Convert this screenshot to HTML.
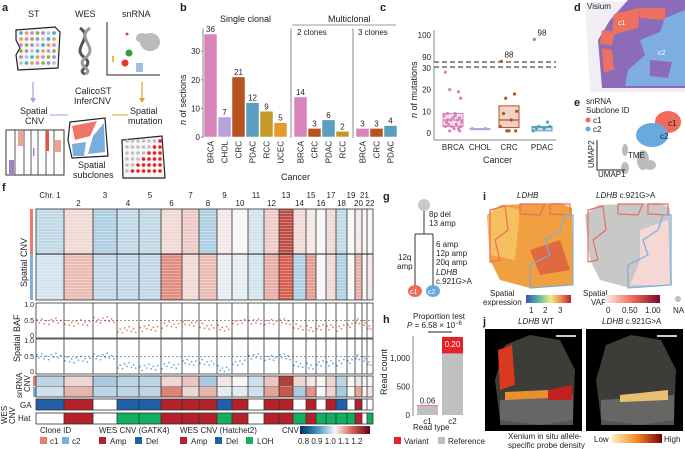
<!DOCTYPE html>
<html><head><meta charset="utf-8"><style>
body{margin:0;background:#fff}
svg{display:block;font-family:"Liberation Sans",sans-serif}
text{fill:#222}
.pl{font-weight:bold;font-size:11px}
.t7{font-size:7px}.t8{font-size:8px}.t9{font-size:9px}
</style></head><body>
<svg id="fig" width="685" height="449" viewBox="0 0 685 449">
<defs>
<pattern id="tex" width="4" height="3" patternUnits="userSpaceOnUse"><rect width="4" height="1" fill="#fff" opacity="0.3"/></pattern>
<linearGradient id="cnvg" x1="0" x2="1"><stop offset="0" stop-color="#053061"/><stop offset="0.25" stop-color="#4393c3"/><stop offset="0.5" stop-color="#f7f7f7"/><stop offset="0.75" stop-color="#d6604d"/><stop offset="1" stop-color="#67001f"/></linearGradient>
<linearGradient id="expg" x1="0" x2="1"><stop offset="0" stop-color="#3a4fb8"/><stop offset="0.3" stop-color="#5fc0a0"/><stop offset="0.55" stop-color="#f5e88a"/><stop offset="0.8" stop-color="#f08040"/><stop offset="1" stop-color="#b0204a"/></linearGradient>
<linearGradient id="vafg" x1="0" x2="1"><stop offset="0" stop-color="#fdf0ee"/><stop offset="0.5" stop-color="#ef6a5a"/><stop offset="1" stop-color="#7a0a2a"/></linearGradient>
<linearGradient id="xeng" x1="0" x2="1"><stop offset="0" stop-color="#fdf1b8"/><stop offset="0.5" stop-color="#f08a20"/><stop offset="1" stop-color="#7a0010"/></linearGradient>
</defs>

<!-- Panel a -->
<g>
<text class="pl" x="2" y="11">a</text>
<text class="t9" x="28" y="17">ST</text><text class="t9" x="75" y="17">WES</text><text class="t9" x="122" y="17">snRNA</text>
<path d="M16 30 L55 27 L60 32 L58 68 L18 70 L16 55 L20 48 L16 40Z" fill="#f6f6f6" stroke="#222" stroke-width="1.2"/>
<g id="stdots"></g>
<path d="M80 28 C95 38 70 48 85 58 C95 66 75 70 85 74" stroke="#555" stroke-width="3" fill="none"/>
<path d="M90 28 C75 38 100 48 85 58 C75 66 95 70 85 74" stroke="#999" stroke-width="3" fill="none"/>
<path d="M107 22 L107 75 L160 75" stroke="#222" fill="none"/>
<ellipse cx="150" cy="42" rx="10" ry="9" fill="#bbb"/><ellipse cx="142" cy="38" rx="6" ry="5" fill="#bbb"/>
<circle cx="129" cy="53" r="3.5" fill="#3a9a3a"/><circle cx="125" cy="63" r="3.5" fill="#e03a2a"/><rect x="136" y="63" width="7" height="9" fill="#9bc0e4"/><rect x="112" y="56" width="2" height="6" fill="#e8c040"/><circle cx="127" cy="34" r="1.5" fill="#c040b0"/>
<line x1="33" y1="82" x2="33" y2="100" stroke="#b29ad6" stroke-width="1.2"/><path d="M30 98 L33 103 L36 98Z" fill="#b29ad6"/>
<line x1="142" y1="82" x2="142" y2="100" stroke="#e8a020" stroke-width="1.2"/><path d="M139 98 L142 103 L145 98Z" fill="#e8a020"/>
<text class="t9" x="20" y="114">Spatial</text><text class="t9" x="25" y="124">CNV</text>
<line x1="50" y1="115" x2="68" y2="115" stroke="#b29ad6"/>
<text class="t9" x="75" y="94">CalicoST</text><text class="t9" x="74" y="104">InferCNV</text>
<line x1="112" y1="115" x2="128" y2="115" stroke="#e8a020"/>
<text class="t9" x="130" y="114">Spatial</text><text class="t9" x="128" y="124">mutation</text>
<rect x="6" y="130" width="58" height="45" fill="#fff" stroke="#333"/>
<g stroke="#333" stroke-width="0.8"><line x1="15" y1="130" x2="15" y2="175"/><line x1="24" y1="130" x2="24" y2="175"/><line x1="31" y1="130" x2="31" y2="175"/><line x1="38" y1="130" x2="38" y2="175"/><line x1="46" y1="130" x2="46" y2="175"/><line x1="54" y1="130" x2="54" y2="175"/></g>
<rect x="18" y="131" width="5" height="15" fill="#f2a08a"/><rect x="46" y="131" width="3" height="20" fill="#e85040"/><rect x="55" y="140" width="6" height="12" fill="#f2a08a"/><rect x="9" y="160" width="5" height="14" fill="#a080c8"/><rect x="33" y="148" width="1.5" height="8" fill="#a080c8"/>
<path d="M70 122 L105 118 L108 156 L72 158 L68 140Z" fill="#fff" stroke="#222" stroke-width="1.2"/>
<path d="M72 126 L97 121 L90 136 L75 140Z" fill="#f07468"/><path d="M93 136 L104 123 L105 152 L88 154Z" fill="#7aaedc"/><path d="M72 144 L86 142 L84 156 L73 156Z" fill="#7aaedc"/>
<text class="t9" x="78" y="168">Spatial</text><text class="t9" x="73" y="178">subclones</text>
<path d="M122 140 L162 136 L165 178 L123 178Z" fill="#f6f6f6" stroke="#222" stroke-width="1.2"/>
<g id="mutdots"></g>
</g>

<!-- Panel b -->
<g id="panelb">
<text class="pl" x="180" y="11">b</text>
<text class="t9" x="220" y="22">Single clonal</text>
<text class="t9" x="328" y="22">Multiclonal</text>
<line x1="292" y1="25" x2="396" y2="25" stroke="#999"/>
<text class="t8" x="297" y="35">2 clones</text><text class="t8" x="358" y="35">3 clones</text>
<text class="t9" transform="translate(186,125) rotate(-90)"><tspan font-style="italic">n</tspan> of sections</text>
<text class="t9" x="281" y="180">Cancer</text>
</g>

<!-- Panel c -->
<g id="panelc">
<text class="pl" x="380" y="11">c</text>
<text class="t9" transform="translate(417,118) rotate(-90)"><tspan font-style="italic">n</tspan> of mutations</text>
<text class="t9" x="483" y="163">Cancer</text>
</g>

<!-- Panel d -->
<g>
<text class="pl" x="574" y="11">d</text>
<path d="M585 2 L685 0 L685 92 L590 92 Z" fill="#f2eef6"/>
<path d="M628 0 L685 0 L685 88 L602 88 L598 40 L610 20Z" fill="#8c6cb8"/>
<path d="M614 14 L640 8 L638 28 L612 35Z" fill="#f07060"/><path d="M640 8 L665 8 L665 20 L640 18Z" fill="#f07060"/>
<path d="M602 30 L615 32 L612 45 L600 44Z" fill="#f07060"/><path d="M602 48 L612 50 L614 70 L604 72Z" fill="#f07060"/>
<path d="M665 18 L685 10 L685 86 L625 86 L628 70 L645 55 L640 40 L660 32Z" fill="#7eaee0"/>
<path d="M650 60 L672 62 L668 78 L650 76Z" fill="#8c6cb8"/>
<text x="587" y="9" class="t8">Visium</text>
<text x="618" y="25" class="t7" style="fill:#fff">c1</text><text x="658" y="55" class="t7" style="fill:#fff">c2</text>
</g>

<!-- Panel e -->
<g>
<text class="pl" x="574" y="106">e</text>
<text class="t8" x="586" y="104">snRNA</text><text class="t8" x="586" y="113">Subclone ID</text>
<circle cx="588" cy="120" r="2.5" fill="#f06a5e"/><text class="t8" x="593" y="123">c1</text>
<circle cx="588" cy="129" r="2.5" fill="#6aa8e0"/><text class="t8" x="593" y="132">c2</text>
<ellipse cx="668" cy="122" rx="13" ry="11" fill="#f06a5e"/><ellipse cx="652" cy="135" rx="16" ry="12" fill="#6aa8e0"/>
<text class="t8" x="668" y="126">c1</text><text class="t8" x="660" y="139">c2</text>
<ellipse cx="643" cy="160" rx="6" ry="10" fill="#bbb"/><ellipse cx="650" cy="165" rx="6" ry="5" fill="#bbb"/><ellipse cx="625" cy="150" rx="3" ry="6" fill="#bbb"/><ellipse cx="625" cy="168" rx="4" ry="6" fill="#bbb"/>
<text class="t8" x="628" y="158">TME</text>
<path d="M597 140 L597 170 L625 170" stroke="#222" fill="none"/>
<text class="t8" x="598" y="177">UMAP1</text><text class="t8" transform="translate(594,168) rotate(-90)">UMAP2</text>
</g>

<!-- Panel f -->
<g id="panelf">
<text class="pl" x="2" y="191">f</text>
<text class="t9" transform="translate(27,287) rotate(-90)">Spatial CNV</text>
<rect x="30" y="209" width="3" height="45" fill="#f07a6a"/><rect x="30" y="254" width="3" height="46" fill="#7aaedc"/>
<text class="t9" transform="translate(20,362) rotate(-90)">Spatial BAF</text>
<text class="t8" transform="translate(22,398) rotate(-90)">snRNA</text><text class="t8" transform="translate(30,392) rotate(-90)">CNV</text>
<rect x="33" y="376" width="3" height="10" fill="#f07a6a"/><rect x="33" y="387" width="3" height="10" fill="#7aaedc"/>
<text class="t8" transform="translate(7,424) rotate(-90)">WES</text><text class="t8" transform="translate(15,424) rotate(-90)">CNV</text>
<text class="t8" x="20" y="408">GA</text><text class="t8" x="18" y="421">Hat</text>
</g>

<!-- Legend f -->
<g>
<text class="t8" x="40" y="433">Clone ID</text>
<rect x="40" y="437" width="7" height="7" fill="#f07a6a"/><text class="t8" x="50" y="444">c1</text>
<rect x="62" y="437" width="7" height="7" fill="#7aaedc"/><text class="t8" x="72" y="444">c2</text>
<text class="t8" x="99" y="433">WES CNV (GATK4)</text>
<rect x="99" y="437" width="7" height="7" fill="#b5202a"/><text class="t8" x="110" y="444">Amp</text>
<rect x="135" y="437" width="7" height="7" fill="#2060a8"/><text class="t8" x="146" y="444">Del</text>
<text class="t8" x="180" y="433">WES CNV (Hatchet2)</text>
<rect x="180" y="437" width="7" height="7" fill="#b5202a"/><text class="t8" x="191" y="444">Amp</text>
<rect x="215" y="437" width="7" height="7" fill="#2060a8"/><text class="t8" x="226" y="444">Del</text>
<rect x="246" y="437" width="7" height="7" fill="#10b060"/><text class="t8" x="257" y="444">LOH</text>
<text class="t8" x="282" y="433">CNV</text>
<rect x="300" y="426" width="70" height="8" fill="url(#cnvg)"/>
<text class="t8" x="298" y="444">0.8 0.9 1.0 1.1 1.2</text>
</g>

<!-- Panel g -->
<g>
<text class="pl" x="383" y="200">g</text>
<circle cx="424" cy="205" r="6" fill="#c8c8c8"/>
<path d="M424 211 L424 234 M415 234 L433 234 M415 234 L415 287 M433 234 L433 287" stroke="#333" fill="none"/>
<text class="t8" x="429" y="217">8p del</text><text class="t8" x="429" y="226">13 amp</text>
<text class="t8" x="436" y="247">6 amp</text><text class="t8" x="436" y="256">12p amp</text><text class="t8" x="436" y="265">20q amp</text>
<text class="t8" x="436" y="275" font-style="italic">LDHB</text><text class="t8" x="436" y="284">c.921G&gt;A</text>
<text class="t8" x="398" y="260">12q</text><text class="t8" x="397" y="269">amp</text>
<ellipse cx="415" cy="291" rx="7" ry="6" fill="#f06a5e"/><text class="t7" x="410" y="294" style="fill:#fff">c1</text>
<ellipse cx="433" cy="291" rx="7" ry="6" fill="#6aa8e0"/><text class="t7" x="428" y="294" style="fill:#fff">c2</text>
</g>

<!-- Panel h -->
<g id="panelh">
<text class="pl" x="383" y="323">h</text>
<text class="t8" x="413" y="319">Proportion test</text>
<text class="t8" x="407" y="328"><tspan font-style="italic">P</tspan> = 6.58 × 10<tspan dy="-3" font-size="6">−6</tspan></text>
<line x1="428" y1="332" x2="452" y2="332" stroke="#222"/>
<text class="t9" transform="translate(387,395) rotate(-90)">Read count</text>
<text class="t8" x="413" y="430">Read type</text>
<rect x="394" y="437" width="7" height="7" fill="#e8202a"/><text class="t8" x="404" y="444">Variant</text>
<rect x="438" y="437" width="7" height="7" fill="#c0c0c0"/><text class="t8" x="448" y="444">Reference</text>
</g>

<!-- Panel i -->
<g>
<text class="pl" x="483" y="200">i</text>
<text class="t8" x="517" y="198" font-style="italic">LDHB</text>
<text class="t8" x="596" y="198"><tspan font-style="italic">LDHB</tspan> c.921G&gt;A</text>
<path d="M487 215 L500 205 L560 203 L572 208 L573 285 L530 288 L500 280 L490 260Z" fill="#f0a040"/>
<path d="M487 215 L500 205 L520 210 L515 260 L490 255Z" fill="#f5c060"/>
<path d="M530 250 L560 240 L570 270 L540 275Z" fill="#e06a40"/>
<path d="M490 210 L505 206 L508 230 L495 240 L500 260 L490 262Z" fill="none" stroke="#f06a5e" stroke-width="1.2"/>
<path d="M520 204 L545 204 L540 215 L520 214Z M550 204 L570 204 L570 215 L550 214Z" fill="none" stroke="#f06a5e" stroke-width="1.2"/>
<path d="M565 215 L573 215 L573 285 L530 288 L530 265 L550 255 L545 240 L560 230Z" fill="none" stroke="#7aaedc" stroke-width="1.2"/>
<path d="M585 215 L598 205 L660 203 L670 208 L672 285 L630 288 L600 280 L590 260Z" fill="#c8c8c8"/>
<path d="M640 230 L668 220 L670 285 L630 285 L640 260Z" fill="#f5d8d4"/>
<path d="M588 210 L603 206 L606 230 L593 240 L598 260 L588 262Z" fill="none" stroke="#f06a5e" stroke-width="1.2"/>
<path d="M618 204 L643 204 L638 215 L618 214Z M648 204 L668 204 L668 215 L648 214Z" fill="none" stroke="#f06a5e" stroke-width="1.2"/>
<path d="M663 215 L671 215 L671 285 L628 288 L628 265 L648 255 L643 240 L658 230Z" fill="none" stroke="#7aaedc" stroke-width="1.2"/>
<text class="t8" x="490" y="296">Spatial</text><text class="t8" x="483" y="305">expression</text>
<rect x="526" y="295" width="45" height="8" fill="url(#expg)"/>
<text class="t8" x="529" y="313">1</text><text class="t8" x="543" y="313">2</text><text class="t8" x="558" y="313">3</text>
<text class="t8" x="583" y="296">Spatial</text><text class="t8" x="591" y="305">VAF</text>
<rect x="605" y="295" width="55" height="8" fill="url(#vafg)"/>
<circle cx="678" cy="299" r="3" fill="#c0c0c0"/>
<text class="t8" x="606" y="313">0</text><text class="t8" x="622" y="313">0.50</text><text class="t8" x="645" y="313">1.00</text><text class="t8" x="673" y="313">NA</text>
</g>

<!-- Panel j -->
<g>
<text class="pl" x="483" y="325">j</text>
<text class="t8" x="518" y="324"><tspan font-style="italic">LDHB</tspan> WT</text>
<text class="t8" x="602" y="324"><tspan font-style="italic">LDHB</tspan> c.921G&gt;A</text>
<rect x="485" y="329" width="97" height="102" fill="#000"/>
<rect x="586" y="329" width="97" height="102" fill="#000"/>
<path d="M505 345 L530 335 L560 340 L575 370 L573 420 L540 425 L500 420 L495 380Z" fill="#3c3c38"/>
<path d="M606 345 L631 335 L661 340 L676 370 L674 420 L641 425 L601 420 L596 380Z" fill="#3c3c38"/>
<path d="M500 400 L573 395 L573 425 L500 425Z" fill="#777" opacity="0.7"/><path d="M601 400 L674 395 L674 425 L601 425Z" fill="#777" opacity="0.7"/>
<path d="M498 350 L512 345 L515 385 L500 390Z" fill="#d83a20"/><path d="M548 390 L572 385 L572 400 L548 400Z" fill="#c02020"/>
<path d="M505 392 L548 390 L548 398 L505 400Z" fill="#e89030"/>
<path d="M620 395 L668 390 L668 400 L620 402Z" fill="#e8c070"/>
<line x1="556" y1="336" x2="576" y2="336" stroke="#ccc" stroke-width="2"/><line x1="657" y1="336" x2="677" y2="336" stroke="#ccc" stroke-width="2"/>
<text class="t8" x="508" y="439">Xenium in situ allele-</text><text class="t8" x="508" y="448">specific probe density</text>
<text class="t8" x="594" y="442">Low</text><rect x="612" y="434" width="50" height="9" fill="url(#xeng)"/><text class="t8" x="664" y="442">High</text>
</g>
</svg>
<script>
const NS='http://www.w3.org/2000/svg';
function mk(tag,attrs,parent){const e=document.createElementNS(NS,tag);for(const k in attrs)e.setAttribute(k,attrs[k]);parent.appendChild(e);return e;}
function tx(s,attrs,parent){const e=mk('text',attrs,parent);e.textContent=s;return e;}

// ---------- Panel b data ----------
const bCats1=['BRCA','CHOL','CRC','PDAC','RCC','UCEC'];
const bVals1=[36,7,21,12,9,5];
const bCats2=['BRCA','CRC','PDAC','RCC'];
const bVals2=[14,3,6,2];
const bCats3=['BRCA','CRC','PDAC'];
const bVals3=[3,3,4];
const bTicks=[0,10,20,30];
const cancerColor={BRCA:'#d883b9',CHOL:'#b8a2dc',CRC:'#b8521f',PDAC:'#5a9fbf',RCC:'#c39a2a',UCEC:'#e29a2b'};
(function(){
 const g=document.getElementById('panelb');
 const y=v=>137-v*2.86;
 const facets=[[204,bCats1,bVals1],[294,bCats2,bVals2],[356,bCats3,bVals3]];
 mk('line',{x1:203,y1:y(38),x2:203,y2:138,stroke:'#888'},g);
 mk('line',{x1:291,y1:y(38),x2:291,y2:138,stroke:'#888'},g);
 mk('line',{x1:353,y1:y(38),x2:353,y2:138,stroke:'#888'},g);
 bTicks.forEach(t=>{tx(String(t),{x:200,y:y(t)+3,'text-anchor':'end',class:'t8'},g);mk('line',{x1:201,y1:y(t),x2:203,y2:y(t),stroke:'#888'},g);});
 facets.forEach(([x0,cats,vals])=>{
  cats.forEach((c,i)=>{
   const x=x0+i*14;
   const r=mk('rect',{x:x,y:y(vals[i]),width:13,height:137-y(vals[i]),fill:cancerColor[c],stroke:'#fff','stroke-width':0.5},g);
   
   
   tx(String(vals[i]),{x:x+6.5,y:y(vals[i])-2,'text-anchor':'middle',class:'t8'},g);
   tx(c,{transform:`translate(${x+9.5},${141}) rotate(-90)`,'text-anchor':'end',class:'t8'},g);
  });
 });
})();

// ---------- Panel c data ----------
const cCats=['BRCA','CHOL','CRC','PDAC'];
const cBRCA=[28,19,20,16,9,9,8,7,7,6,6,5,5,4,4,3,3,3,2,2,1,1,6,8];
const cCHOL=[2,2];
const cCRC=[88,18,16,10,9,6,3,1,1,1];
const cPDAC=[98,5,3,3,2,2,1];
const cMed=[6,2,6,2.5];
const cQ1=[3,2,2.5,1];
const cQ3=[9,2,12.5,3];
const cTicksLow=[0,10,20,30];
const cTicksHigh=[90,100];
(function(){
 const g=document.getElementById('panelc');
 const y=v=>v<=30?133-v*2.17:57-(v-90)*2.2;
 const xs=[453,480,509,542];
 mk('line',{x1:434,y1:30,x2:434,y2:140,stroke:'#888'},g);
 mk('line',{x1:434,y1:140,x2:556,y2:140,stroke:'#888'},g);
 mk('rect',{x:434,y:62,width:122,height:5,fill:'#fff'},g);
 mk('line',{x1:434,y1:62,x2:556,y2:62,stroke:'#222','stroke-dasharray':'5,3'},g);
 mk('line',{x1:434,y1:67,x2:556,y2:67,stroke:'#222','stroke-dasharray':'5,3'},g);
 cTicksLow.concat(cTicksHigh).forEach(t=>{tx(String(t),{x:431,y:y(t)+3,'text-anchor':'end',class:'t8'},g);});
 const series=[cBRCA,cCHOL,cCRC,cPDAC];
 const offs=[-7,5,-3,7,-5,2,-8,6,0,-2,4,-6,8,-4,3,-1,7,-7,1,5,-3,6,-5,2];
 cCats.forEach((c,i)=>{
  const col=cancerColor[c],x=xs[i];
  mk('rect',{x:x-10,y:y(cQ3[i]),width:20,height:Math.max(1,y(cQ1[i])-y(cQ3[i])),fill:col,'fill-opacity':0.25,stroke:col},g);
  mk('line',{x1:x-10,y1:y(cMed[i]),x2:x+10,y2:y(cMed[i]),stroke:col,'stroke-width':1.2},g);
  tx(c,{x:x,y:150,'text-anchor':'middle',class:'t8'},g);
  series[i].forEach((v,j)=>{
   const p=mk('circle',{cx:x+offs[j%offs.length]*1.1,cy:y(v),r:1.6,fill:col},g);
   
   
   if(v>30)tx(String(v),{x:x,y:y(v)-4,'text-anchor':'middle',class:'t8'},g);
  });
 });
})();

// ---------- Panel f data ----------
const chrNames=['1','2','3','4','5','6','7','8','9','10','11','12','13','14','15','16','17','18','19','20','21','22'];
const chrEdges=[36,64,93,117,139,161,182,199,217,232,248,264,279,293,306,316,326,336,347,355,362,367,373];
const cnvC1=[0.97,1.02,0.96,0.97,0.97,1.02,1.03,0.96,1.01,1.0,0.98,1.03,1.12,1.02,1.01,1.0,1.02,0.97,1.0,1.01,1.0,1.0];
const cnvC2=[0.98,1.04,0.97,0.97,0.97,1.07,1.02,1.04,0.99,0.99,0.98,1.05,1.1,0.96,1.06,1.0,1.02,0.96,1.0,1.05,1.0,1.01];
const bafC1=[0.47,0.42,0.52,0.2,0.25,0.35,0.4,0.3,0.25,0.45,0.47,0.45,0.47,0.3,0.25,0.3,0.3,0.25,0.3,0.45,0.4,0.3];
const bafC2=[0.5,0.4,0.5,0.2,0.15,0.2,0.3,0.3,0.1,0.3,0.5,0.45,0.5,0.25,0.2,0.3,0.3,0.3,0.3,0.45,0.4,0.3];
const gaTrack=['del','amp','none','del','del','amp','amp','amp','del','amp','none','amp','amp','none','amp','none','amp','del','none','amp','none','none'];
const hatTrack=['none','amp','none','loh','loh','amp','amp','amp','loh','amp','none','amp','amp','loh','amp','loh','loh','loh','loh','amp','none','loh'];
(function(){
 const g=document.getElementById('panelf');
 function cnvCol(v){const t=Math.max(0,Math.min(1,(v-0.8)/0.4));
  const stops=[[5,48,97],[67,147,195],[247,247,247],[214,96,77],[103,0,31]];
  const p=t*4,i=Math.min(3,Math.floor(p)),f=p-i;const a=stops[i],b=stops[i+1];
  return `rgb(${a.map((c,k)=>Math.round(c+(b[k]-c)*f)).join(',')})`;}
 const trackCol={amp:'#b5202a',del:'#2060a8',loh:'#10b060',none:'#fff'};
 const jit=[0.05,-0.04,0.08,-0.07,0.02,-0.1,0.06,-0.02,0.1,-0.05,0.03,-0.08];
 chrNames.forEach((c,i)=>{
  const x0=chrEdges[i],x1=chrEdges[i+1],w=x1-x0;
  tx(c===chrNames[0]?'Chr. 1':c,{x:(x0+x1)/2,y:i%2?206:198,'text-anchor':'middle',class:'t8'},g);
  [[209,45,cnvC1[i]],[254,46,cnvC2[i]]].forEach(([yy,h,v])=>{
   const r=mk('rect',{x:x0,y:yy,width:w,height:h,fill:cnvCol(v)},g);
   
   
   mk('rect',{x:x0,y:yy,width:w,height:h,fill:'url(#tex)'},g);
  });
  mk('rect',{x:x0,y:376,width:w,height:10,fill:cnvCol(1+(cnvC1[i]-1)*1.1)},g);
  mk('rect',{x:x0,y:387,width:w,height:10,fill:cnvCol(1+(cnvC2[i]-1)*1.1)},g);
  [[303,bafC1[i],'#f07a6a'],[339,bafC2[i],'#6aa8e0']].forEach(([yy,b,col])=>{
   const n=Math.max(3,Math.round(w/2.5));
   for(let k=0;k<n;k++){const v=b+jit[(k+i)%jit.length];
    const p=mk('circle',{cx:x0+1+k*(w-2)/n,cy:yy+33-v*31,r:0.9,fill:col},g);
    
    }
  });
  mk('rect',{x:x0,y:399,width:w,height:11,fill:trackCol[gaTrack[i]]},g);
  mk('rect',{x:x0,y:413,width:w,height:11,fill:trackCol[hatTrack[i]]},g);
 });
 [[209,91],[303,35],[339,35],[376,21],[399,11],[413,11]].forEach(([yy,h])=>{
  mk('rect',{x:36,y:yy,width:337,height:h,fill:'none',stroke:'#333','stroke-width':0.8},g);
  chrEdges.slice(1,-1).forEach(x=>mk('line',{x1:x,y1:yy,x2:x,y2:yy+h,stroke:'#333','stroke-width':0.8},g));
 });
 mk('line',{x1:36,y1:254,x2:373,y2:254,stroke:'#222'},g);
 mk('line',{x1:36,y1:386.5,x2:373,y2:386.5,stroke:'#333','stroke-width':0.5},g);
 [[303],[339]].forEach(([yy])=>{
  mk('line',{x1:36,y1:yy+17.5,x2:373,y2:yy+17.5,stroke:'#333','stroke-dasharray':'2,2','stroke-width':0.6},g);
  tx('1.0',{x:34,y:yy+4,'text-anchor':'end',class:'t7'},g);tx('0.5',{x:34,y:yy+20,'text-anchor':'end',class:'t7'},g);tx('0',{x:34,y:yy+35,'text-anchor':'end',class:'t7'},g);
 });
})();

// ---------- Panel h data ----------
const hCats=['c1','c2'];
const hRef=[160,1080];
const hVar=[10,290];
const hFrac=['0.06','0.20'];
const hTicks=[0,500,1000];
(function(){
 const g=document.getElementById('panelh');
 const y=v=>415-v*0.057;
 mk('line',{x1:413,y1:336,x2:413,y2:416,stroke:'#888'},g);
 hTicks.forEach(t=>tx(t===1000?'1,000':String(t),{x:410,y:y(t)+3,'text-anchor':'end',class:'t8'},g));
 hCats.forEach((c,i)=>{
  const x=417+i*25;
  const r1=mk('rect',{x:x,y:y(hRef[i]),width:21,height:415-y(hRef[i]),fill:'#c0c0c0'},g);
  
  
  const r2=mk('rect',{x:x,y:y(hRef[i]+hVar[i]),width:21,height:y(hRef[i])-y(hRef[i]+hVar[i]),fill:'#e8202a'},g);
  
  
  tx(hFrac[i],{x:x+10.5,y:i?y(hRef[i]+hVar[i])+10:y(hRef[i]+hVar[i])-2,'text-anchor':'middle',class:'t8',style:i?'fill:#fff':''},g);
  tx(c,{x:x+10.5,y:424,'text-anchor':'middle',class:'t8'},g);
 });
})();

// Panel a dots
(function(){
 const cols=['#2ab8c8','#e8a040','#d880c8','#8ab040','#9b8bd0','#c0c0c0'];
 const g=document.getElementById('stdots');
 for(let r=0;r<6;r++)for(let c=0;c<7;c++){mk('circle',{cx:21+c*5.5,cy:33+r*6,r:1.8,fill:cols[(r+c)%6]},g);}
 const m=document.getElementById('mutdots');
 for(let r=0;r<6;r++)for(let c=0;c<7;c++){mk('circle',{cx:127+c*5.5,cy:141+r*6,r:1.8,fill:(c+r>5)?'#e82020':'#c0c0c0'},m);}
})();
</script>
</body></html>
